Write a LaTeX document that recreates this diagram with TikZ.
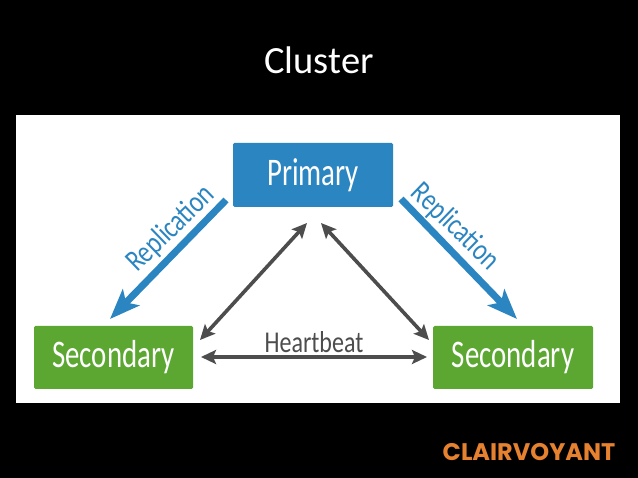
\documentclass[tikz,border=0pt]{standalone}
\usepackage{fontspec}
\usepackage{graphicx}
\setmainfont{Carlito}
\newfontfamily\logofont{Poppins}
\usetikzlibrary{arrows.meta}
\definecolor{pblue}{HTML}{2B85C1}
\definecolor{sgreen}{HTML}{5BA732}
\definecolor{hgray}{HTML}{4D4D4D}
\definecolor{logoorange}{HTML}{E5812F}
\newcommand{\boxlabel}[1]{\raisebox{-2pt}{\scalebox{.85}[1.15]{#1}}}
\newcommand{\seclabel}[1]{\raisebox{-1pt}{\scalebox{.85}[1.15]{#1}}}
\newcommand{\repllabel}[1]{\scalebox{.87}[1.1]{#1}}
\newcommand{\beatlabel}[1]{\scalebox{.89}[1.12]{#1}}
\tikzset{
  x=1pt,y=-1pt,
  box/.style={rounded corners=1.5pt,inner sep=0pt,text=white,font=\fontsize{34}{34}\selectfont},
  repl/.style={draw=pblue,line width=7pt,-{Stealth[length=30pt,width=23pt,inset=7pt]}},
  beat/.style={draw=hgray,line width=3.6pt,{Stealth[length=15pt,width=14pt,inset=3pt]}-{Stealth[length=15pt,width=14pt,inset=3pt]}},
  repltext/.style={text=pblue,font=\fontsize{28}{28}\selectfont,inner sep=0pt},
}
\begin{document}
\begin{tikzpicture}
\useasboundingbox (0,0) rectangle (638,478);
\fill[black] (0,0) rectangle (638,478);
\fill[white] (16,115) rectangle (620,403);
\node[inner sep=0pt,text=white,font=\fontsize{38.5}{38.5}\selectfont] (title) at (319,60) {Cluster};
\node[box,fill=pblue,minimum width=160pt,minimum height=64pt] (primary) at (313,175) {\boxlabel{Primary}};
\node[box,fill=sgreen,minimum width=159pt,minimum height=63pt] (secL) at (113.5,357.5) {\seclabel{Secondary}};
\node[box,fill=sgreen,minimum width=160pt,minimum height=63pt] (secR) at (513,357.5) {\seclabel{Secondary}};
\coordinate (rLs) at (226,200); \coordinate (rLe) at (110,319);
\coordinate (rRs) at (401,199); \coordinate (rRe) at (517,319);
\coordinate (hLa) at (307,223); \coordinate (hLb) at (200,340);
\coordinate (hRa) at (321,223); \coordinate (hRb) at (429,340);
\coordinate (hBa) at (201,357); \coordinate (hBb) at (427,357);
\draw[repl] (rLs) -- (rLe);
\draw[repl] (rRs) -- (rRe);
\draw[beat] (hLa) -- (hLb);
\draw[beat] (hRa) -- (hRb);
\draw[beat] (hBa) -- (hBb);
\node[repltext,rotate=44] (replL) at (171,229) {\repllabel{Replication}};
\node[repltext,rotate=-44] (replR) at (455,227) {\repllabel{Replication}};
\node[inner sep=0pt,text=hgray,font=\fontsize{27}{27}\selectfont] (hb) at (314,342) {\beatlabel{Heartbeat}};
\node[inner sep=0pt,text=logoorange,font=\logofont\bfseries\fontsize{24}{24}\selectfont] (logo) at (529,452) {CLAIRVOYANT};
\end{tikzpicture}
\end{document}
